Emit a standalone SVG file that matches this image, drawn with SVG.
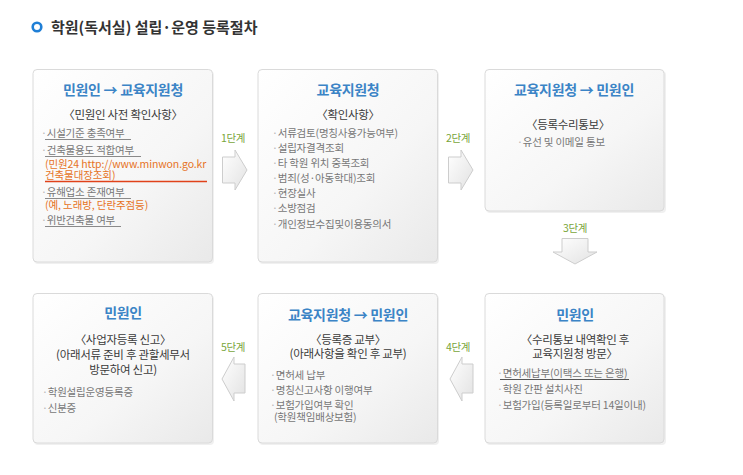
<svg xmlns="http://www.w3.org/2000/svg" width="743" height="475" viewBox="0 0 743 475">
<style>
text{font-family:"Noto Sans CJK KR","Noto Sans",sans-serif;}
.box{fill:url(#boxg);stroke:#dadada;stroke-width:1;}
.sh{fill:#000;opacity:0.06;}
.hd{font-size:14px;font-weight:bold;fill:#3b84c6;text-anchor:middle;letter-spacing:-0.3px;}
.sub{font-size:11.5px;fill:#3a3a3a;text-anchor:middle;letter-spacing:-0.3px;}
.it{font-size:10.5px;fill:#777777;letter-spacing:-0.2px;}
.dot{fill:#b5b5b5;}
.or{font-size:10.5px;fill:#e6731f;letter-spacing:-0.1px;}
.ul{stroke:#8a8a8a;stroke-width:1;}
.step{font-size:10.5px;fill:#79a53b;text-anchor:middle;letter-spacing:-0.3px;}
.arr{fill:url(#arrg);stroke:#cdcdcd;stroke-width:1;}
.title{font-size:15px;font-weight:bold;fill:#333;}
</style>
<defs>
<linearGradient id="boxg" x1="0" y1="0" x2="1" y2="1">
<stop offset="0" stop-color="#ffffff"/>
<stop offset="0.6" stop-color="#f6f6f6"/>
<stop offset="1" stop-color="#e9e9e9"/>
</linearGradient>
<linearGradient id="arrg" x1="0" y1="0" x2="1" y2="1">
<stop offset="0" stop-color="#ffffff"/>
<stop offset="1" stop-color="#e2e2e2"/>
</linearGradient>
</defs>
<rect width="743" height="475" fill="#ffffff"/>

<g id="title">
<circle cx="37" cy="27" r="4.3" fill="none" stroke="#1f7fd6" stroke-width="2.6"/>
<text class="title" x="51" y="32.5">학원(독서실) 설립·운영 등록절차</text>
</g>

<g id="node1">
<rect class="sh" x="34" y="71" width="180" height="193" rx="4"/>
<rect class="box" x="33" y="69.5" width="179.5" height="192.5" rx="4"/>
<text class="hd" x="123" y="95">민원인 → 교육지원청</text>
<text class="sub" x="123" y="119">〈민원인 사전 확인사항〉</text>
<text class="it" x="41" y="137"><tspan class="dot">·</tspan>시설기준 충족여부</text>
<line class="ul" x1="45" y1="139.5" x2="131" y2="139.5"/>
<text class="it" x="41" y="154"><tspan class="dot">·</tspan>건축물용도 적합여부</text>
<line class="ul" x1="45" y1="156.5" x2="141" y2="156.5"/>
<text class="or" x="45" y="167.5">(민원24 http://www.minwon.go.kr</text>
<text class="or" x="45" y="179">건축물대장조회)</text>
<line x1="45" y1="181.5" x2="207" y2="181.5" stroke="#e0421a" stroke-width="1.4"/>
<text class="it" x="41" y="196"><tspan class="dot">·</tspan>유해업소 존재여부</text>
<line class="ul" x1="45" y1="198.5" x2="131" y2="198.5"/>
<text class="or" x="45" y="209">(예, 노래방, 단란주점등)</text>
<text class="it" x="41" y="224"><tspan class="dot">·</tspan>위반건축물 여부</text>
<line class="ul" x1="45" y1="226.5" x2="121" y2="226.5"/>
</g>

<g id="node2">
<rect class="sh" x="259" y="71" width="180" height="193" rx="4"/>
<rect class="box" x="258" y="69.5" width="179.5" height="192.5" rx="4"/>
<text class="hd" x="348" y="95">교육지원청</text>
<text class="sub" x="348" y="119">〈확인사항〉</text>
<text class="it" x="272" y="137"><tspan class="dot">·</tspan>서류검토(명칭사용가능여부)</text>
<text class="it" x="272" y="152"><tspan class="dot">·</tspan>설립자결격조회</text>
<text class="it" x="272" y="167"><tspan class="dot">·</tspan>타 학원  위치 중복조회</text>
<text class="it" x="272" y="182"><tspan class="dot">·</tspan>범죄(성·아동학대)조회</text>
<text class="it" x="272" y="197"><tspan class="dot">·</tspan>현장실사</text>
<text class="it" x="272" y="212"><tspan class="dot">·</tspan>소방점검</text>
<text class="it" x="272" y="228"><tspan class="dot">·</tspan>개인정보수집및이용동의서</text>
</g>

<g id="node3">
<rect class="sh" x="486" y="71" width="180" height="142" rx="4"/>
<rect class="box" x="485" y="69.5" width="179" height="141.5" rx="4"/>
<text class="hd" x="574" y="95">교육지원청 → 민원인</text>
<text class="sub" x="568" y="129">〈등록수리통보〉</text>
<text class="it" x="517" y="146"><tspan class="dot">·</tspan>유선 및 이메일 통보</text>
</g>

<g id="node4">
<rect class="sh" x="486" y="295" width="180" height="150" rx="4"/>
<rect class="box" x="485" y="293.5" width="179" height="149.5" rx="4"/>
<text class="hd" x="575" y="320">민원인</text>
<text class="sub" x="575" y="343.5">〈수리통보 내역확인 후</text>
<text class="sub" x="575" y="357.5">교육지원청 방문〉</text>
<text class="it" x="497" y="377"><tspan class="dot">·</tspan>면허세납부(이택스 또는 은행)</text>
<line x1="500" y1="379.5" x2="629" y2="379.5" stroke="#555" stroke-width="1"/>
<text class="it" x="497" y="392.5"><tspan class="dot">·</tspan>학원 간판 설치사진</text>
<text class="it" x="497" y="409"><tspan class="dot">·</tspan>보험가입(등록일로부터 14일이내)</text>
</g>

<g id="node5">
<rect class="sh" x="259" y="295" width="180" height="150" rx="4"/>
<rect class="box" x="258" y="293.5" width="179.5" height="149.5" rx="4"/>
<text class="hd" x="348" y="320">교육지원청 → 민원인</text>
<text class="sub" x="348" y="343.5">〈등록증 교부〉</text>
<text class="sub" x="348" y="358">(아래사항을  확인 후 교부)</text>
<text class="it" x="270" y="379"><tspan class="dot">·</tspan>면허세 납부</text>
<text class="it" x="270" y="394"><tspan class="dot">·</tspan>명칭신고사항 이행여부</text>
<text class="it" x="270" y="408.5"><tspan class="dot">·</tspan>보험가입여부 확인</text>
<text class="it" x="274" y="421">(학원책임배상보험)</text>
</g>

<g id="node6">
<rect class="sh" x="34" y="295" width="180" height="150" rx="4"/>
<rect class="box" x="33" y="293.5" width="179.5" height="149.5" rx="4"/>
<text class="hd" x="123" y="318">민원인</text>
<text class="sub" x="123" y="344">〈사업자등록 신고〉</text>
<text class="sub" x="123" y="359">(아래서류 준비 후 관할세무서</text>
<text class="sub" x="123" y="374">방문하여 신고)</text>
<text class="it" x="42" y="396"><tspan class="dot">·</tspan>학원설립운영등록증</text>
<text class="it" x="42" y="412"><tspan class="dot">·</tspan>신분증</text>
</g>

<g id="connectors">
<text class="step" x="233" y="142">1단계</text>
<path class="arr" d="M222.5,157 H235 V150 L247,170 L235,190 V183 H222.5 Z"/>
<text class="step" x="458" y="142">2단계</text>
<path class="arr" d="M448.5,157 H461 V150 L473,170 L461,190 V183 H448.5 Z"/>
<text class="step" x="575" y="232">3단계</text>
<path class="arr" d="M562,238.5 H588 V252 H597 L575,264 L553,252 H562 Z"/>
<text class="step" x="458" y="351">4단계</text>
<path class="arr" d="M473,364 H462 V357 L450,379 L462,401 V393 H473 Z"/>
<text class="step" x="233" y="351">5단계</text>
<path class="arr" d="M245,364 H234 V357 L222,379 L234,401 V393 H245 Z"/>
</g>
</svg>
